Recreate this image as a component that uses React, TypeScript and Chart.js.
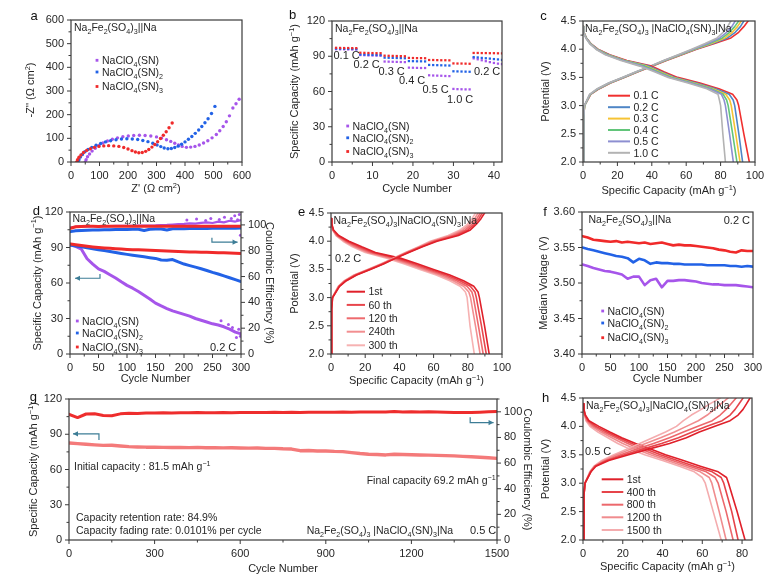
import { useEffect, useRef } from 'react';
import { Chart, registerables } from 'chart.js';

Chart.register(...registerables);

const FONT = '"Liberation Sans", Arial, Helvetica, sans-serif';
const INK = '#262626';
const FRAME = '#3a3a3a';
const ARROW = '#3d7d96';
const W = 784;
const H = 584;
const Y_W = 30;
const X_H = 22;

const PURPLE = '#a655ea';
const BLUE = '#2262e6';
const RED = '#f02a2a';

// ---------- (a) impedance spectra ----------
const eisSnRe = [50, 53, 58, 65, 74, 85, 98, 112, 128, 145, 163, 182, 201, 220, 240, 260, 280, 300, 318, 335, 350, 364, 377, 390, 405, 420, 435, 450, 465, 480, 495, 510, 522, 534, 545, 556, 568, 579, 590];
const eisSnIm = [0, 10, 22, 34, 46, 58, 70, 80, 89, 96, 102, 107, 110, 112, 113, 112, 110, 106, 101, 94, 87, 79, 72, 66, 62, 63, 66, 72, 80, 90, 102, 116, 132, 150, 170, 195, 228, 246, 265];
const eisSn2Re = [25, 28, 33, 40, 49, 60, 73, 88, 104, 121, 139, 158, 177, 196, 215, 234, 252, 270, 287, 302, 315, 327, 340, 352, 364, 376, 388, 400, 412, 424, 436, 448, 459, 470, 481, 493, 505];
const eisSn2Im = [0, 10, 21, 32, 43, 53, 62, 71, 78, 85, 90, 94, 97, 98, 97, 95, 91, 86, 79, 72, 65, 59, 56, 57, 61, 67, 75, 85, 96, 108, 121, 135, 150, 166, 183, 205, 235];
const eisSn3Re = [20, 23, 28, 35, 44, 55, 68, 82, 98, 115, 132, 150, 168, 185, 200, 214, 226, 238, 250, 262, 273, 284, 294, 304, 314, 324, 334, 344, 355];
const eisSn3Im = [0, 10, 20, 30, 40, 49, 56, 62, 66, 68, 69, 68, 66, 61, 55, 48, 42, 39, 40, 45, 53, 63, 74, 86, 99, 113, 128, 145, 165];

// ---------- (b) rate capability ----------
const rateCycles = [1, 2, 3, 4, 5, 6, 7, 8, 9, 10, 11, 12, 13, 14, 15, 16, 17, 18, 19, 20, 21, 22, 23, 24, 25, 26, 27, 28, 29, 30, 31, 32, 33, 34, 35, 36, 37, 38, 39, 40, 41, 42];
const rateSn3 = [97.2, 97.1, 97.0, 97.0, 96.9, 96.9, 93.0, 92.9, 92.8, 92.7, 92.6, 92.6, 90.5, 90.4, 90.3, 90.2, 90.1, 90.0, 88.6, 88.5, 88.4, 88.4, 88.3, 86.8, 86.8, 86.7, 86.6, 86.6, 86.5, 83.9, 83.8, 83.8, 83.7, 83.6, 92.8, 92.8, 92.7, 92.7, 92.6, 92.6, 92.5, 92.5];
const rateSn2 = [96.5, 96.4, 96.3, 96.3, 96.2, 96.1, 91.5, 91.4, 91.3, 91.2, 91.1, 91.0, 88.8, 88.7, 88.6, 88.5, 88.4, 88.3, 85.9, 85.8, 85.7, 85.7, 85.6, 82.6, 82.5, 82.4, 82.3, 82.2, 82.1, 77.2, 77.1, 77.0, 76.9, 76.8, 89.3, 89.0, 88.6, 88.3, 88.0, 87.6, 87.3, 87.0];
const rateSn1 = [96.0, 95.9, 95.9, 95.8, 95.8, 95.7, 91.0, 90.9, 90.7, 90.6, 90.5, 90.4, 85.5, 85.4, 85.3, 85.2, 85.1, 85.0, 80.3, 80.2, 80.1, 80.0, 80.0, 73.8, 73.6, 73.5, 73.4, 73.2, 73.1, 62.2, 62.0, 61.9, 61.8, 61.8, 88.2, 87.4, 86.6, 85.8, 85.0, 84.3, 83.7, 83.2];
const rateLabels = ['0.1 C', '0.2 C', '0.3 C', '0.4 C', '0.5 C', '1.0 C', '0.2 C'];

// ---------- charge / discharge voltage grids ----------
const chargeV = [2.0, 2.8, 3.0, 3.2, 3.3, 3.4, 3.5, 3.6, 3.7, 3.8, 3.9, 4.0, 4.1, 4.2, 4.3, 4.4, 4.5];
const dischargeV = [4.4, 4.3, 4.2, 4.1, 4.0, 3.9, 3.8, 3.7, 3.6, 3.5, 3.4, 3.3, 3.2, 3.1, 3.0, 2.5, 2.0];

// (c) capacities at each rate
const cRates = ['0.1 C', '0.2 C', '0.3 C', '0.4 C', '0.5 C', '1.0 C'];
const cCharge = [
  [0, 0.4, 0.9, 4.5, 9.5, 16, 24, 32, 40.5, 48.5, 57.5, 66, 76.5, 86, 90.5, 93.5, 96],
  [0, 0.4, 0.9, 4.3, 9.2, 15.7, 23.7, 31.7, 40, 48, 57, 65.5, 75.5, 84, 88.5, 91.5, 93.5],
  [0, 0.4, 0.9, 4.2, 9.0, 15.5, 23.5, 31.5, 39.7, 47.7, 56.6, 65, 74.5, 82.5, 86.8, 89.8, 92],
  [0, 0.4, 0.9, 4.1, 8.8, 15.3, 23.3, 31.3, 39.5, 47.4, 56.2, 64.5, 73.5, 81, 85.2, 88.2, 90.5],
  [0, 0.4, 0.8, 4.0, 8.6, 15.1, 23.1, 31.1, 39.3, 47.1, 55.8, 64, 72.5, 79.5, 83.5, 86.5, 88.5],
  [0, 0.3, 0.8, 3.8, 8.3, 14.8, 22.8, 30.8, 39, 46.8, 55.3, 63.2, 71, 78, 81.5, 84, 86],
];
const cDischarge = [
  [0, 0.5, 2, 4.5, 8.7, 15.5, 25.5, 40, 47, 55, 68, 79, 87, 89.5, 90.5, 93.5, 96.7],
  [0, 0.5, 1.9, 4.4, 8.4, 15, 24.5, 38.5, 45.5, 53.5, 66, 77, 85, 87.3, 88.2, 90.6, 92.8],
  [0, 0.5, 1.8, 4.2, 8.2, 14.5, 24, 37, 44.5, 52.5, 64.5, 75.5, 83, 85.3, 86.2, 88.8, 91.3],
  [0, 0.4, 1.8, 4.1, 8, 14, 23.5, 36, 43.5, 51.5, 63.5, 74.5, 81.5, 83.5, 84.4, 87, 89.5],
  [0, 0.4, 1.7, 4.0, 7.8, 13.5, 23, 34.5, 42.5, 50.5, 62.5, 73.5, 80.5, 82, 82.8, 85.2, 87.4],
  [0, 0.4, 1.6, 3.8, 7.5, 13, 22, 33, 41.5, 49.5, 61, 72, 78.5, 79.3, 80, 81.3, 82.8],
];
const cColors = ['#f0302f', '#4f86c6', '#f6c334', '#62c57a', '#8d8fd1', '#b3b3b3'];

// (e) selected cycles at 0.2 C
const eCycles = ['1st', '60 th', '120 th', '240th', '300 th'];
const eCharge = [
  [0, 0.4, 0.9, 5.0, 9.0, 15, 23, 31, 38, 45.5, 53.5, 62, 74.5, 81.5, 85, 87.7, 89.8],
  [0, 0.4, 0.9, 4.8, 8.7, 14.6, 22.6, 30.6, 37.6, 45, 53, 61, 73, 80, 83.8, 86.5, 88.5],
  [0, 0.4, 0.8, 4.6, 8.4, 14.2, 22.2, 30.2, 37.2, 44.5, 52.4, 60, 71.5, 78.5, 82.5, 85.3, 87.3],
  [0, 0.3, 0.8, 4.4, 8.1, 13.8, 21.8, 29.8, 36.8, 44, 51.8, 59, 70, 77, 81.2, 84, 86],
  [0, 0.3, 0.7, 4.2, 7.8, 13.4, 21.4, 29.4, 36.4, 43.5, 51.2, 58, 68.5, 75.5, 79.8, 82.5, 84.5],
];
const eDischarge = [
  [0, 0.5, 1.5, 4.5, 10.5, 18, 26, 40.5, 50.5, 60, 69.5, 77.5, 83.5, 86, 86.8, 89.8, 92.5],
  [0, 0.4, 1.3, 4.0, 9.5, 16.5, 24.5, 38.5, 48.5, 58, 67.5, 75.5, 81.5, 84.2, 85, 88, 90.8],
  [0, 0.4, 1.2, 3.6, 8.6, 15, 23, 36.5, 46.5, 56, 65.5, 73.5, 79.5, 82.4, 83.3, 86.2, 89],
  [0, 0.3, 1.0, 3.2, 7.8, 13.8, 21.5, 34.5, 44.5, 54, 63.5, 71.5, 77.5, 80.6, 81.6, 84.5, 87.2],
  [0, 0.3, 0.9, 2.9, 7.0, 12.5, 20, 32.5, 42.5, 52, 61.5, 69.5, 75.5, 78.6, 79.6, 81.3, 83.8],
];
const eColors = ['#e0202a', '#e8464c', '#ee6a6e', '#f28e90', '#f6b2b2'];

// (h) selected cycles at 0.5 C
const hCycles = ['1st', '400 th', '800 th', '1200 th', '1500 th'];
const hCharge = [
  [0, 0.5, 1.0, 4.0, 6.5, 13, 23, 33, 43.5, 52, 58.5, 66, 74, 78, 80.5, 82.3, 84],
  [0, 0.5, 1.0, 3.9, 6.2, 12, 21, 30, 39.5, 48, 55, 62, 70, 74, 76.5, 78.5, 80.5],
  [0, 0.5, 1.0, 3.8, 6.0, 11.5, 19, 27, 35.5, 43.5, 50.5, 57.5, 65, 69, 72, 74.5, 77],
  [0, 0.5, 1.0, 3.6, 5.8, 10.5, 17, 24, 31.5, 39, 46, 52, 58, 62.5, 66, 69.5, 73],
  [0, 0.5, 1.0, 3.4, 5.5, 9.5, 15.5, 22, 28.5, 35, 41.5, 47, 50.5, 54.5, 59.5, 64, 69],
];
const hDischarge = [
  [0, 0.5, 1.2, 3, 8, 13.5, 19.5, 26.5, 34, 41.5, 50.5, 59, 68, 72.2, 73.2, 77.5, 81.5],
  [0, 0.45, 1.0, 2.6, 6.5, 12, 18, 24.5, 31.5, 39, 47.5, 56, 65, 69.5, 70.8, 74.8, 78],
  [0, 0.4, 0.9, 2.2, 5.5, 10.5, 16.5, 22.5, 29, 36.5, 45, 53.5, 62, 66.5, 68, 72, 75.5],
  [0, 0.35, 0.8, 1.8, 4.5, 9, 14.5, 20, 26.5, 34, 42.5, 51, 59, 63.5, 64.8, 68.5, 72],
  [0, 0.3, 0.7, 1.5, 3.5, 7.5, 12.5, 17.5, 23.5, 31, 40, 48.5, 56, 60, 61.5, 65.5, 69.5],
];
const hColors = ['#e0202a', '#e6444a', '#ec686c', '#f08c8e', '#f4acae'];

// ---------- (d) / (f) 300 cycles at 0.2 C ----------
const cyc300 = [1, 10, 20, 30, 40, 50, 60, 70, 80, 90, 100, 110, 120, 130, 140, 150, 160, 170, 180, 190, 200, 210, 220, 230, 240, 250, 260, 270, 280, 290, 300];
const capSn3 = [93.0, 92.3, 91.6, 91.0, 90.5, 90.0, 89.6, 89.3, 89.0, 88.7, 88.4, 88.2, 88.0, 87.8, 87.6, 87.4, 87.2, 87.0, 86.8, 86.6, 86.4, 86.3, 86.1, 86.0, 85.9, 85.8, 85.6, 85.5, 85.4, 85.2, 85.0];
const capSn2 = [92.0, 91.3, 90.6, 89.8, 89.0, 88.1, 87.4, 86.6, 85.8, 85.0, 84.2, 83.5, 82.8, 82.1, 81.4, 80.8, 79.4, 79.2, 79.8, 77.8, 76.0, 74.7, 73.4, 72.0, 70.6, 69.0, 67.6, 66.0, 64.4, 62.8, 61.2];
const capSn1 = [92.0, 91.0, 88.5, 80.5, 76.0, 72.0, 69.8, 67.0, 64.2, 61.0, 58.0, 55.6, 52.8, 49.6, 46.5, 43.0, 40.6, 38.4, 36.5, 35.0, 33.5, 32.0, 30.0, 28.5, 27.0, 25.5, 24.5, 23.0, 21.0, 18.5, 17.0];
const capSn1ScatterCyc = [265, 278, 285, 292, 296, 299];
const capSn1Scatter = [28.0, 25.0, 22.5, 14.0, 21.0, 15.0];
const ceSn3 = [97.4, 98.6, 98.8, 98.9, 98.9, 98.8, 98.9, 99.0, 98.9, 98.9, 99.0, 99.0, 98.9, 99.0, 99.0, 99.0, 98.9, 99.0, 99.0, 98.9, 99.0, 99.0, 99.0, 98.9, 99.0, 99.0, 99.0, 98.9, 99.0, 99.0, 99.0];
const ceSn2 = [94.8, 95.4, 95.7, 95.9, 96.0, 96.1, 96.2, 96.3, 96.4, 96.5, 96.5, 96.6, 96.6, 95.7, 96.7, 96.8, 96.8, 96.0, 97.0, 97.0, 97.1, 97.2, 97.2, 97.3, 97.3, 97.4, 97.4, 97.4, 97.5, 97.5, 97.6];
const ceSn1 = [98.0, 98.6, 98.8, 98.9, 99.0, 99.0, 99.1, 99.1, 99.2, 99.2, 99.3, 99.3, 99.4, 99.4, 99.5, 99.6, 99.8, 100.0, 100.3, 100.6, 100.8, 101.2, 101.0, 101.6, 102.0, 101.5, 102.5, 102.0, 103.2, 102.6, 103.8];
const ceSn1ScatterCyc = [205, 222, 238, 247, 262, 271, 283, 289, 294, 297, 299];
const ceSn1Scatter = [103.8, 104.5, 103.5, 105.0, 104.2, 106.0, 105.0, 107.0, 104.0, 108.0, 92.0];

const vmSn3 = [3.566, 3.564, 3.561, 3.560, 3.559, 3.558, 3.559, 3.557, 3.558, 3.557, 3.556, 3.557, 3.555, 3.556, 3.557, 3.555, 3.553, 3.554, 3.553, 3.553, 3.552, 3.551, 3.550, 3.549, 3.547, 3.546, 3.544, 3.543, 3.546, 3.545, 3.545];
const vmSn2 = [3.550, 3.548, 3.546, 3.544, 3.542, 3.540, 3.538, 3.537, 3.535, 3.529, 3.534, 3.532, 3.527, 3.529, 3.528, 3.528, 3.527, 3.527, 3.526, 3.526, 3.526, 3.526, 3.525, 3.525, 3.525, 3.525, 3.524, 3.524, 3.523, 3.524, 3.523];
const vmSn1 = [3.526, 3.524, 3.521, 3.519, 3.517, 3.516, 3.514, 3.512, 3.506, 3.509, 3.509, 3.497, 3.504, 3.506, 3.494, 3.503, 3.503, 3.504, 3.504, 3.503, 3.502, 3.500, 3.499, 3.498, 3.498, 3.497, 3.497, 3.497, 3.496, 3.495, 3.494];

// ---------- (g) 1500 cycles at 0.5 C ----------
const cyc1500 = [1, 30, 60, 90, 120, 150, 180, 210, 240, 270, 300, 330, 360, 390, 420, 450, 480, 510, 540, 570, 600, 630, 660, 690, 720, 750, 780, 810, 840, 870, 900, 930, 960, 990, 1020, 1050, 1080, 1110, 1140, 1170, 1200, 1230, 1260, 1290, 1320, 1350, 1380, 1410, 1440, 1470, 1500];
const longCap = [82.5, 82.0, 81.5, 81.0, 80.5, 80.6, 80.0, 79.5, 79.2, 79.0, 79.0, 78.8, 78.7, 78.8, 78.6, 78.8, 78.5, 78.6, 78.4, 78.5, 78.3, 78.2, 78.3, 78.0, 78.0, 77.6, 77.4, 76.0, 76.2, 75.8, 75.8, 75.4, 75.2, 74.4, 73.6, 73.0, 72.8, 72.4, 73.0, 72.8, 72.6, 72.4, 72.2, 72.0, 71.8, 71.6, 71.2, 70.8, 70.4, 70.0, 69.5];
const longCe = [98.0, 95.5, 98.3, 98.5, 97.2, 97.0, 98.4, 98.8, 98.6, 99.0, 99.1, 99.2, 99.1, 99.3, 99.2, 99.4, 99.3, 99.3, 99.4, 99.3, 99.5, 99.4, 99.4, 99.5, 99.6, 99.5, 99.6, 99.5, 99.7, 99.6, 99.6, 99.7, 99.8, 99.7, 99.8, 99.9, 99.8, 99.9, 100.3, 99.9, 100.0, 99.9, 100.0, 99.8, 99.6, 99.5, 99.5, 99.4, 99.7, 100.0, 100.2];

const electrolytes = ['NaClO_{4}(SN)', 'NaClO_{4}(SN)_{2}', 'NaClO_{4}(SN)_{3}'];
const cellHalf = 'Na_{2}Fe_{2}(SO_{4})_{3}||Na';
const cellFull = 'Na_{2}Fe_{2}(SO_{4})_{3}|NaClO_{4}(SN)_{3}|Na';
const cellFullSp = 'Na_{2}Fe_{2}(SO_{4})_{3} |NaClO_{4}(SN)_{3}|Na';
const capTitle = 'Specific Capacity (mAh g^{\u22121})';

// ---------- helpers ----------
type Axis = { min: number; max: number; step: number; dec?: number };
type TextItem = { s: string; x: number; y: number; size?: number; align?: 'left' | 'center' | 'right'; rot?: number; color?: string };
type LegendItem = { s: string; color: string };
type Legend = { kind: 'dot' | 'line'; x0: number; x1: number; tx: number; rows: number[]; items: LegendItem[] };
type Arrow = { axis: 'y' | 'y2'; pts: [number, number][] };
type Panel = {
  area: [number, number, number, number];
  x: Axis;
  y: Axis;
  y2?: Axis;
  datasets: any[];
  texts: TextItem[];
  legend?: Legend;
  arrows?: Arrow[];
};

const pts = (xs: number[], ys: number[]) => xs.map((x, i) => ({ x, y: ys[i] }));

function trace(xs: number[], ys: number[], color: string, width: number, axis = 'y') {
  return {
    data: pts(xs, ys), showLine: true, borderColor: color, backgroundColor: color,
    borderWidth: width, pointRadius: 0, yAxisID: axis, borderJoinStyle: 'round', borderCapStyle: 'round',
  };
}

function marks(xs: number[], ys: number[], color: string, r: number, style = 'circle', axis = 'y') {
  return {
    data: pts(xs, ys), showLine: false, pointRadius: r, pointStyle: style,
    pointBackgroundColor: color, pointBorderColor: color, pointBorderWidth: 0, yAxisID: axis,
  };
}

type Seg = { t: string; k: number };
function parseRich(s: string): Seg[] {
  const out: Seg[] = [];
  let buf = '';
  for (let i = 0; i < s.length; i++) {
    const c = s[i];
    if ((c === '_' || c === '^') && s[i + 1] === '{') {
      if (buf) { out.push({ t: buf, k: 0 }); buf = ''; }
      const end = s.indexOf('}', i);
      out.push({ t: s.slice(i + 2, end), k: c === '_' ? 1 : 2 });
      i = end;
    } else {
      buf += c;
    }
  }
  if (buf) out.push({ t: buf, k: 0 });
  return out;
}

function drawRich(ctx: CanvasRenderingContext2D, t: TextItem) {
  const size = t.size ?? 10.5;
  const segs = parseRich(t.s);
  const sm = size * 0.68;
  const fontFor = (k: number) => `${k ? sm : size}px ${FONT}`;
  let total = 0;
  const widths = segs.map((g) => {
    ctx.font = fontFor(g.k);
    const w = ctx.measureText(g.t).width;
    total += w;
    return w;
  });
  ctx.save();
  ctx.translate(t.x, t.y);
  if (t.rot) ctx.rotate(t.rot);
  const align = t.align ?? 'left';
  let cx = align === 'center' ? -total / 2 : align === 'right' ? -total : 0;
  const base = size * 0.36;
  ctx.fillStyle = t.color ?? INK;
  ctx.textAlign = 'left';
  ctx.textBaseline = 'alphabetic';
  segs.forEach((g, i) => {
    ctx.font = fontFor(g.k);
    const dy = g.k === 1 ? size * 0.26 : g.k === 2 ? -size * 0.4 : 0;
    ctx.fillText(g.t, cx, base + dy);
    cx += widths[i];
  });
  ctx.restore();
}

function drawAxisTicks(ctx: CanvasRenderingContext2D, a: Axis, toPx: (v: number) => number, side: string, edge: number) {
  const half = a.step / 2;
  for (let k = 0; ; k++) {
    const v = a.min + k * half;
    if (v > a.max + 1e-9) break;
    const len = k % 2 === 0 ? 4 : 2.5;
    const p = toPx(v);
    ctx.beginPath();
    if (side === 'bottom') { ctx.moveTo(p, edge); ctx.lineTo(p, edge + len); }
    else if (side === 'left') { ctx.moveTo(edge, p); ctx.lineTo(edge - len, p); }
    else { ctx.moveTo(edge, p); ctx.lineTo(edge + len, p); }
    ctx.stroke();
  }
}

function decoPlugin(p: Panel) {
  return {
    id: 'deco',
    afterDraw(chart: any) {
      const ctx: CanvasRenderingContext2D = chart.ctx;
      const { left, top, right, bottom } = chart.chartArea;
      const sx = chart.scales.x;
      const sy = chart.scales.y;
      const sy2 = chart.scales.y2;
      ctx.save();
      ctx.strokeStyle = FRAME;
      ctx.lineWidth = 1.2;
      ctx.strokeRect(left, top, right - left, bottom - top);
      ctx.lineWidth = 1;
      drawAxisTicks(ctx, p.x, (v) => sx.getPixelForValue(v), 'bottom', bottom);
      drawAxisTicks(ctx, p.y, (v) => sy.getPixelForValue(v), 'left', left);
      if (p.y2 && sy2) drawAxisTicks(ctx, p.y2, (v) => sy2.getPixelForValue(v), 'right', right);

      (p.arrows ?? []).forEach((ar) => {
        const sc = ar.axis === 'y2' ? sy2 : sy;
        const xy = ar.pts.map(([a, b]) => [sx.getPixelForValue(a), sc.getPixelForValue(b)]);
        ctx.strokeStyle = ARROW;
        ctx.fillStyle = ARROW;
        ctx.lineWidth = 1.2;
        ctx.beginPath();
        xy.forEach(([x, y], i) => (i ? ctx.lineTo(x, y) : ctx.moveTo(x, y)));
        ctx.stroke();
        const [x1, y1] = xy[xy.length - 1];
        const [x0, y0] = xy[xy.length - 2];
        const ang = Math.atan2(y1 - y0, x1 - x0);
        ctx.beginPath();
        ctx.moveTo(x1, y1);
        ctx.lineTo(x1 - 5 * Math.cos(ang) + 2.6 * Math.sin(ang), y1 - 5 * Math.sin(ang) - 2.6 * Math.cos(ang));
        ctx.lineTo(x1 - 5 * Math.cos(ang) - 2.6 * Math.sin(ang), y1 - 5 * Math.sin(ang) + 2.6 * Math.cos(ang));
        ctx.closePath();
        ctx.fill();
      });

      const lg = p.legend;
      if (lg) {
        lg.items.forEach((it, i) => {
          const y = lg.rows[i];
          if (lg.kind === 'dot') {
            ctx.fillStyle = it.color;
            ctx.fillRect(lg.x0 - 1.4, y - 1.4, 2.8, 2.8);
          } else {
            ctx.strokeStyle = it.color;
            ctx.lineWidth = 2;
            ctx.beginPath();
            ctx.moveTo(lg.x0, y);
            ctx.lineTo(lg.x1, y);
            ctx.stroke();
          }
          drawRich(ctx, { s: it.s, x: lg.tx, y, size: 10.5 });
        });
      }
      p.texts.forEach((t) => drawRich(ctx, t));
      ctx.restore();
    },
  };
}

function axisOptions(a: Axis, position: string) {
  return {
    type: 'linear',
    position,
    min: a.min,
    max: a.max,
    afterFit: (s: any) => {
      if (position === 'bottom') s.height = X_H;
      else s.width = Y_W;
    },
    grid: { display: false, drawTicks: true, tickLength: 4 },
    border: { display: false },
    ticks: {
      stepSize: a.step,
      includeBounds: false,
      autoSkip: false,
      maxRotation: 0,
      padding: 3,
      color: INK,
      font: { family: FONT, size: 11 },
      callback: (v: any) => Number(v).toFixed(a.dec ?? 0),
    },
  };
}

function buildConfig(p: Panel): any {
  const [l, t, r, b] = p.area;
  const scales: any = { x: axisOptions(p.x, 'bottom'), y: axisOptions(p.y, 'left') };
  if (p.y2) scales.y2 = axisOptions(p.y2, 'right');
  return {
    type: 'scatter',
    data: { datasets: p.datasets },
    options: {
      responsive: false,
      maintainAspectRatio: false,
      animation: false,
      devicePixelRatio: 1,
      events: [],
      layout: { padding: { left: l - Y_W, top: t, right: W - r - (p.y2 ? Y_W : 0), bottom: H - b - X_H } },
      plugins: { legend: { display: false }, tooltip: { enabled: false } },
      scales,
    },
    plugins: [decoPlugin(p)],
  };
}

const UP = -Math.PI / 2;
const DOWN = Math.PI / 2;
const letter = (s: string, x: number, y: number): TextItem => ({ s, x, y, size: 13, align: 'center', color: '#111' });
const title = (s: string, x: number, y: number, rot = 0): TextItem => ({ s, x, y, size: 11, align: 'center', rot });

const curveSets = (caps: number[][], grid: number[], colors: string[], width: number) =>
  caps.map((c, i) => trace(c, grid, colors[i], width));

// ---------- panels ----------
const panels: Panel[] = [
  {
    area: [71, 20, 242, 162],
    x: { min: 0, max: 600, step: 100 },
    y: { min: 0, max: 600, step: 100 },
    datasets: [
      marks(eisSn3Re, eisSn3Im, RED, 1.7),
      marks(eisSn2Re, eisSn2Im, BLUE, 1.7),
      marks(eisSnRe, eisSnIm, PURPLE, 1.7),
    ],
    texts: [
      letter('a', 34, 15),
      { s: cellHalf, x: 74, y: 27.5 },
      title("-Z'' (\u03a9 cm^{2})", 30, 90, UP),
      title("Z' (\u03a9 cm^{2})", 156, 188),
    ],
    legend: {
      kind: 'dot', x0: 97, x1: 97, tx: 102, rows: [60.3, 72, 86.5],
      items: [
        { s: electrolytes[0], color: PURPLE },
        { s: electrolytes[1], color: BLUE },
        { s: electrolytes[2], color: RED },
      ],
    },
  },
  {
    area: [332, 21, 502, 162],
    x: { min: 0, max: 42, step: 10 },
    y: { min: 0, max: 120, step: 30 },
    datasets: [
      marks(rateCycles, rateSn3, RED, 1.6, 'rect'),
      marks(rateCycles, rateSn2, BLUE, 1.6, 'rect'),
      marks(rateCycles, rateSn1, PURPLE, 1.6, 'rect'),
    ],
    texts: [
      letter('b', 292.5, 14.5),
      { s: cellHalf, x: 335, y: 28.7 },
      title(capTitle, 294, 91.5, UP),
      title('Cycle Number', 417, 188),
      { s: rateLabels[0], x: 333.5, y: 55.5, size: 11 },
      { s: rateLabels[1], x: 353.5, y: 64, size: 11 },
      { s: rateLabels[2], x: 378.5, y: 70.7, size: 11 },
      { s: rateLabels[3], x: 399, y: 80.3, size: 11 },
      { s: rateLabels[4], x: 422.5, y: 88.7, size: 11 },
      { s: rateLabels[5], x: 447, y: 98.7, size: 11 },
      { s: rateLabels[6], x: 474, y: 71.3, size: 11 },
    ],
    legend: {
      kind: 'dot', x0: 347.7, x1: 347.7, tx: 352.5, rows: [126, 137.8, 151.5],
      items: [
        { s: electrolytes[0], color: PURPLE },
        { s: electrolytes[1], color: BLUE },
        { s: electrolytes[2], color: RED },
      ],
    },
  },
  {
    area: [583, 21, 755, 162],
    x: { min: 0, max: 100, step: 20 },
    y: { min: 2.0, max: 4.5, step: 0.5, dec: 1 },
    datasets: [
      ...curveSets(cCharge, chargeV, cColors, 1.6),
      ...curveSets(cDischarge, dischargeV, cColors, 1.6),
    ].reverse(),
    texts: [
      letter('c', 543.5, 15),
      { s: cellFullSp, x: 585, y: 28.3 },
      title('Potential (V)', 545, 91.5, UP),
      title(capTitle, 669, 190),
    ],
    legend: {
      kind: 'line', x0: 608, x1: 630, tx: 633.5, rows: [95.7, 107.2, 118.6, 130, 141.4, 152.8],
      items: cRates.map((s, i) => ({ s, color: cColors[i] })),
    },
  },
  {
    area: [70, 212, 241, 354],
    x: { min: 0, max: 300, step: 50 },
    y: { min: 0, max: 120, step: 30 },
    y2: { min: 0, max: 110, step: 20 },
    datasets: [
      trace(cyc300, ceSn3, RED, 3, 'y2'),
      trace(cyc300, capSn3, RED, 3),
      marks(ceSn1ScatterCyc, ceSn1Scatter, PURPLE, 1.5, 'circle', 'y2'),
      trace(cyc300, ceSn1, PURPLE, 2.2, 'y2'),
      trace(cyc300, ceSn2, BLUE, 3, 'y2'),
      trace(cyc300, capSn2, BLUE, 3),
      marks(capSn1ScatterCyc, capSn1Scatter, PURPLE, 1.5),
      trace(cyc300, capSn1, PURPLE, 3),
    ],
    texts: [
      letter('d', 36.3, 210),
      { s: cellHalf, x: 72.5, y: 218.5 },
      title(capTitle, 36.7, 283, UP),
      title('Coulombic Efficiency (%)', 270, 283, DOWN),
      title('Cycle Number', 155.5, 378.5),
      { s: '0.2 C', x: 210, y: 347, size: 11 },
    ],
    legend: {
      kind: 'dot', x0: 77.3, x1: 77.3, tx: 82, rows: [321, 333, 347],
      items: [
        { s: electrolytes[0], color: PURPLE },
        { s: electrolytes[1], color: BLUE },
        { s: electrolytes[2], color: RED },
      ],
    },
    arrows: [
      { axis: 'y', pts: [[52.6, 67.6], [52.6, 64], [8.8, 64]] },
      { axis: 'y2', pts: [[249, 90], [249, 86.6], [294, 86.6]] },
    ],
  },
  {
    area: [331, 213, 502, 354],
    x: { min: 0, max: 100, step: 20 },
    y: { min: 2.0, max: 4.5, step: 0.5, dec: 1 },
    datasets: [
      ...curveSets(eCharge, chargeV, eColors, 1.6),
      ...curveSets(eDischarge, dischargeV, eColors, 1.6),
    ],
    texts: [
      letter('e', 301.7, 211.7),
      { s: cellFull, x: 333.5, y: 220 },
      { s: '0.2 C', x: 335, y: 258.3, size: 11 },
      title('Potential (V)', 294.3, 283.5, UP),
      title(capTitle, 416.5, 380),
    ],
    legend: {
      kind: 'line', x0: 346.7, x1: 365, tx: 368.5, rows: [291.7, 304.9, 318.3, 331.7, 345.3],
      items: eCycles.map((s, i) => ({ s, color: eColors[i] })),
    },
  },
  {
    area: [582, 212, 753, 354],
    x: { min: 0, max: 300, step: 50 },
    y: { min: 3.4, max: 3.6, step: 0.05, dec: 2 },
    datasets: [
      trace(cyc300, vmSn3, RED, 2.6),
      trace(cyc300, vmSn2, BLUE, 2.6),
      trace(cyc300, vmSn1, PURPLE, 2.6),
    ],
    texts: [
      letter('f', 545, 211.7),
      { s: cellHalf, x: 588.5, y: 219.3 },
      { s: '0.2 C', x: 750, y: 220, size: 11, align: 'right' },
      title('Median Voltage (V)', 543.3, 283, UP),
      title('Cycle Number', 667.5, 378),
    ],
    legend: {
      kind: 'dot', x0: 602.7, x1: 602.7, tx: 607.5, rows: [311, 323, 337.7],
      items: [
        { s: electrolytes[0], color: PURPLE },
        { s: electrolytes[1], color: BLUE },
        { s: electrolytes[2], color: RED },
      ],
    },
  },
  {
    area: [69, 399, 497, 540],
    x: { min: 0, max: 1500, step: 300 },
    y: { min: 0, max: 120, step: 30 },
    y2: { min: 0, max: 110, step: 20 },
    datasets: [
      trace(cyc1500, longCe, '#ee2d2d', 3, 'y2'),
      trace(cyc1500, longCap, '#f47a7a', 3.4),
    ],
    texts: [
      letter('g', 33.3, 396.7),
      title(capTitle, 33.3, 469.5, UP),
      title('Coulombic Efficiency (%)', 528.3, 469.5, DOWN),
      title('Cycle Number', 283, 568.3),
      { s: 'Initial capacity : 81.5 mAh g^{\u22121}', x: 74, y: 466 },
      { s: 'Final capacity 69.2 mAh g^{\u22121}', x: 366.7, y: 480 },
      { s: 'Capacity retention rate: 84.9%', x: 76, y: 517.7 },
      { s: 'Capacity fading rate: 0.0101% per cycle', x: 76, y: 530 },
      { s: cellFullSp, x: 306.7, y: 530 },
      { s: '0.5 C', x: 470, y: 530, size: 11 },
    ],
    arrows: [
      { axis: 'y', pts: [[105, 85.1], [105, 90.4], [14, 90.4]] },
      { axis: 'y2', pts: [[1406, 95.8], [1406, 91.6], [1488, 91.6]] },
    ],
  },
  {
    area: [583, 398, 752, 540],
    x: { min: 0, max: 85, step: 20 },
    y: { min: 2.0, max: 4.5, step: 0.5, dec: 1 },
    datasets: [
      ...curveSets(hCharge, chargeV, hColors, 1.6),
      ...curveSets(hDischarge, dischargeV, hColors, 1.6),
    ],
    texts: [
      letter('h', 545.5, 397),
      { s: cellFull, x: 586, y: 405.7 },
      { s: '0.5 C', x: 585, y: 451, size: 11 },
      title('Potential (V)', 545, 469, UP),
      title(capTitle, 667.5, 566),
    ],
    legend: {
      kind: 'line', x0: 601.7, x1: 623.3, tx: 626.7, rows: [479.3, 492, 504.7, 517.3, 530],
      items: hCycles.map((s, i) => ({ s, color: hColors[i] })),
    },
  },
];

function PanelCanvas({ panel }: { panel: Panel }) {
  const ref = useRef<HTMLCanvasElement>(null);
  useEffect(() => {
    const chart = new Chart(ref.current as HTMLCanvasElement, buildConfig(panel));
    return () => chart.destroy();
  }, [panel]);
  return <canvas ref={ref} width={W} height={H} style={{ position: 'absolute', left: 0, top: 0, width: W, height: H }} />;
}

export default function App() {
  return (
    <div style={{ position: 'fixed', left: 0, top: 0, width: W, height: H, background: '#fff', overflow: 'hidden' }}>
      {panels.map((p, i) => (
        <PanelCanvas key={i} panel={p} />
      ))}
    </div>
  );
}
